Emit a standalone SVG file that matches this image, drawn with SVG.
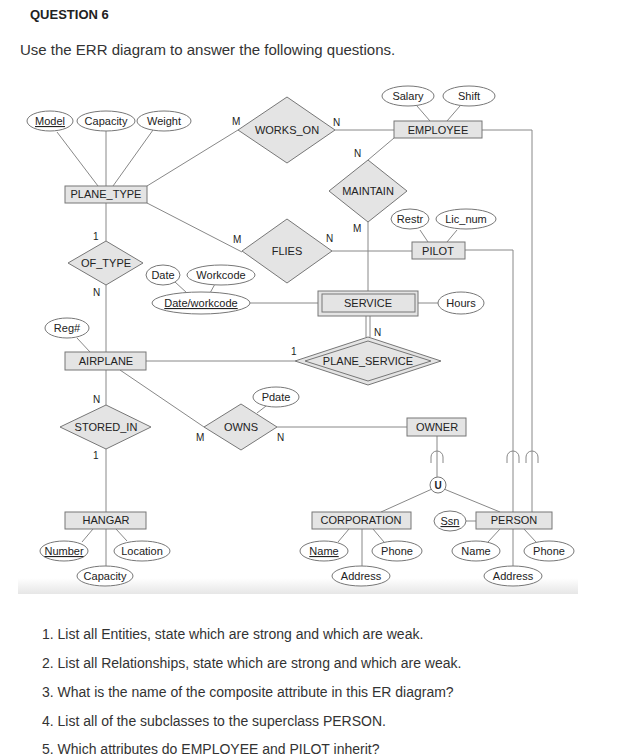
<svg xmlns="http://www.w3.org/2000/svg" width="619" height="755" viewBox="0 0 619 755">
<defs>
<style>
.e{fill:#e4e4e4;stroke:#777;stroke-width:1}
.a{fill:#fff;stroke:#777;stroke-width:1}
.l{fill:none;stroke:#888;stroke-width:1}
text{font-family:"Liberation Sans",Arial,sans-serif;fill:#222}
.t{font-size:11px;text-anchor:middle}
.c{font-size:10px}
.q{font-size:14px;fill:#333}
</style>
<linearGradient id="g" x1="0" y1="0" x2="0" y2="1"><stop offset="0" stop-color="#fff"/><stop offset="1" stop-color="#e6e6e6"/></linearGradient>
</defs>
<rect width="619" height="755" fill="#fff"/>
<rect x="18" y="578" width="560" height="16" fill="url(#g)"/>
<text x="30" y="19" style="font-size:13px;font-weight:bold">QUESTION 6</text>
<text x="20" y="55" style="font-size:15px;fill:#333">Use the ERR diagram to answer the following questions.</text>

<g id="connectors">
<path class="l" d="M57,132L98,186M106,127V186M153,130L113,186M147,186L238,130M147,203L242,252M106,203V241M106,285V352M77,338L90,352M175,282L187,293M215,284L210,293M250,303H318M146,361H295M335,130H394M417,106L430,121M460,106L447,121M482,130H532V512M394,138L368,160M368,222V291M332,251H412M420,230L428,242M457,230L447,242M465,250H513V566M418,303H438M366,316V337M370,316V337M106,370V405M106,449V512M120,370L204,427M266,406L257,413M277,427H407M437,436V477M432,489L381,512M444,489L500,512M466,521H476M82,542L93,529M127,541L116,529M106,529V566M349,529L338,542M373,529L384,542M362,529V566M500,529L488,542M524,529L536,542"/>
<path class="l" d="M431,463v-6a6,6 0 0 1 12,0v6M507,463v-6a6,6 0 0 1 12,0v6M526,463v-6a6,6 0 0 1 12,0v6"/>
<text class="c" x="232" y="125">M</text><text class="c" x="333" y="126">N</text>
<text class="c" x="354" y="157">N</text><text class="c" x="353" y="232">M</text>
<text class="c" x="233" y="243">M</text><text class="c" x="326" y="242">N</text>
<text class="c" x="93" y="240">1</text><text class="c" x="93" y="296">N</text>
<text class="c" x="291" y="355">1</text><text class="c" x="374" y="336">N</text>
<text class="c" x="93" y="403">N</text><text class="c" x="93" y="459">1</text>
<text class="c" x="196" y="441">M</text><text class="c" x="277" y="441">N</text>
</g>

<g id="Model"><ellipse class="a" cx="50" cy="121" rx="23" ry="10"/><text class="t" x="50" y="125" text-decoration="underline">Model</text></g>
<g id="Capacity1"><ellipse class="a" cx="106" cy="121" rx="29" ry="10"/><text class="t" x="106" y="125">Capacity</text></g>
<g id="Weight"><ellipse class="a" cx="164" cy="121" rx="27" ry="10"/><text class="t" x="164" y="125">Weight</text></g>
<g id="PLANE_TYPE"><rect class="e" x="65" y="186" width="82" height="17"/><text class="t" x="106" y="198">PLANE_TYPE</text></g>
<g id="WORKS_ON"><polygon class="e" points="238,130 287,97 335,130 287,163"/><text class="t" x="287" y="134">WORKS_ON</text></g>
<g id="FLIES"><polygon class="e" points="242,251 287,219 332,251 287,283"/><text class="t" x="287" y="255">FLIES</text></g>
<g id="OF_TYPE"><polygon class="e" points="68,263 106,241 143,263 106,285"/><text class="t" x="106" y="267">OF_TYPE</text></g>
<g id="Date"><ellipse class="a" cx="163" cy="275" rx="17" ry="10"/><text class="t" x="163" y="279">Date</text></g>
<g id="Workcode"><ellipse class="a" cx="221" cy="275" rx="34" ry="10"/><text class="t" x="221" y="279">Workcode</text></g>
<g id="Datework"><ellipse class="a" cx="201" cy="303" rx="49" ry="11"/><text class="t" x="201" y="307" text-decoration="underline">Date/workcode</text></g>
<g id="Reg"><ellipse class="a" cx="67" cy="328" rx="22" ry="10"/><text class="t" x="67" y="332">Reg#</text></g>
<g id="AIRPLANE"><rect class="e" x="65" y="352" width="81" height="18"/><text class="t" x="106" y="365">AIRPLANE</text></g>
<g id="Salary"><ellipse class="a" cx="408" cy="96" rx="26" ry="10"/><text class="t" x="408" y="100">Salary</text></g>
<g id="Shift"><ellipse class="a" cx="469" cy="96" rx="26" ry="10"/><text class="t" x="469" y="100">Shift</text></g>
<g id="EMPLOYEE"><rect class="e" x="394" y="121" width="88" height="17"/><text class="t" x="438" y="134">EMPLOYEE</text></g>
<g id="MAINTAIN"><polygon class="e" points="329,191 368,160 407,191 368,222"/><text class="t" x="368" y="195">MAINTAIN</text></g>
<g id="Restr"><ellipse class="a" cx="410" cy="219" rx="19" ry="10"/><text class="t" x="410" y="223">Restr</text></g>
<g id="Lic_num"><ellipse class="a" cx="466" cy="219" rx="30" ry="10"/><text class="t" x="466" y="223">Lic_num</text></g>
<g id="PILOT"><rect class="e" x="412" y="242" width="53" height="17"/><text class="t" x="438" y="255">PILOT</text></g>
<g id="SERVICE"><rect class="e" x="318" y="291" width="100" height="25"/><rect class="e" x="322" y="294" width="93" height="18"/><text class="t" x="368" y="307">SERVICE</text></g>
<g id="Hours"><ellipse class="a" cx="461" cy="303" rx="23" ry="11"/><text class="t" x="461" y="307">Hours</text></g>
<g id="PLANE_SERVICE"><polygon class="e" points="295,361 368,337 441,361 368,385"/><polygon class="e" points="305,361 368,341 431,361 368,381"/><text class="t" x="368" y="365">PLANE_SERVICE</text></g>
<g id="STORED_IN"><polygon class="e" points="60,427 106,405 151,427 106,449"/><text class="t" x="106" y="431">STORED_IN</text></g>
<g id="OWNS"><polygon class="e" points="204,427 241,404 277,427 241,450"/><text class="t" x="241" y="431">OWNS</text></g>
<g id="Pdate"><ellipse class="a" cx="276" cy="397" rx="23" ry="10"/><text class="t" x="276" y="401">Pdate</text></g>
<g id="OWNER"><rect class="e" x="407" y="418" width="59" height="18"/><text class="t" x="437" y="431">OWNER</text></g>
<g id="U"><circle class="a" cx="438" cy="485" r="8"/><text class="t" x="438" y="489" style="font-weight:bold;font-size:10px">U</text></g>
<g id="HANGAR"><rect class="e" x="65" y="512" width="81" height="17"/><text class="t" x="106" y="524">HANGAR</text></g>
<g id="Number"><ellipse class="a" cx="64" cy="551" rx="24" ry="10"/><text class="t" x="64" y="555" text-decoration="underline">Number</text></g>
<g id="Location"><ellipse class="a" cx="142" cy="551" rx="28" ry="10"/><text class="t" x="142" y="555">Location</text></g>
<g id="Capacity2"><ellipse class="a" cx="105" cy="576" rx="28" ry="10"/><text class="t" x="105" y="580">Capacity</text></g>
<g id="CORPORATION"><rect class="e" x="312" y="512" width="99" height="17"/><text class="t" x="361" y="524">CORPORATION</text></g>
<g id="CName"><ellipse class="a" cx="324" cy="551" rx="24" ry="10"/><text class="t" x="324" y="555" text-decoration="underline">Name</text></g>
<g id="CPhone"><ellipse class="a" cx="397" cy="551" rx="25" ry="10"/><text class="t" x="397" y="555">Phone</text></g>
<g id="CAddress"><ellipse class="a" cx="361" cy="576" rx="29" ry="10"/><text class="t" x="361" y="580">Address</text></g>
<g id="Ssn"><ellipse class="a" cx="450" cy="521" rx="16" ry="10"/><text class="t" x="450" y="525" text-decoration="underline">Ssn</text></g>
<g id="PERSON"><rect class="e" x="476" y="512" width="76" height="17"/><text class="t" x="514" y="524">PERSON</text></g>
<g id="PName"><ellipse class="a" cx="476" cy="551" rx="24" ry="10"/><text class="t" x="476" y="555">Name</text></g>
<g id="PPhone"><ellipse class="a" cx="549" cy="551" rx="25" ry="10"/><text class="t" x="549" y="555">Phone</text></g>
<g id="PAddress"><ellipse class="a" cx="513" cy="576" rx="29" ry="10"/><text class="t" x="513" y="580">Address</text></g>

<text class="q" x="42" y="639">1. List all Entities, state which are strong and which are weak.</text>
<text class="q" x="42" y="668">2. List all Relationships, state which are strong and which are weak.</text>
<text class="q" x="42" y="697">3. What is the name of the composite attribute in this ER diagram?</text>
<text class="q" x="42" y="726">4. List all of the subclasses to the superclass PERSON.</text>
<text class="q" x="42" y="754">5. Which attributes do EMPLOYEE and PILOT inherit?</text>
</svg>
